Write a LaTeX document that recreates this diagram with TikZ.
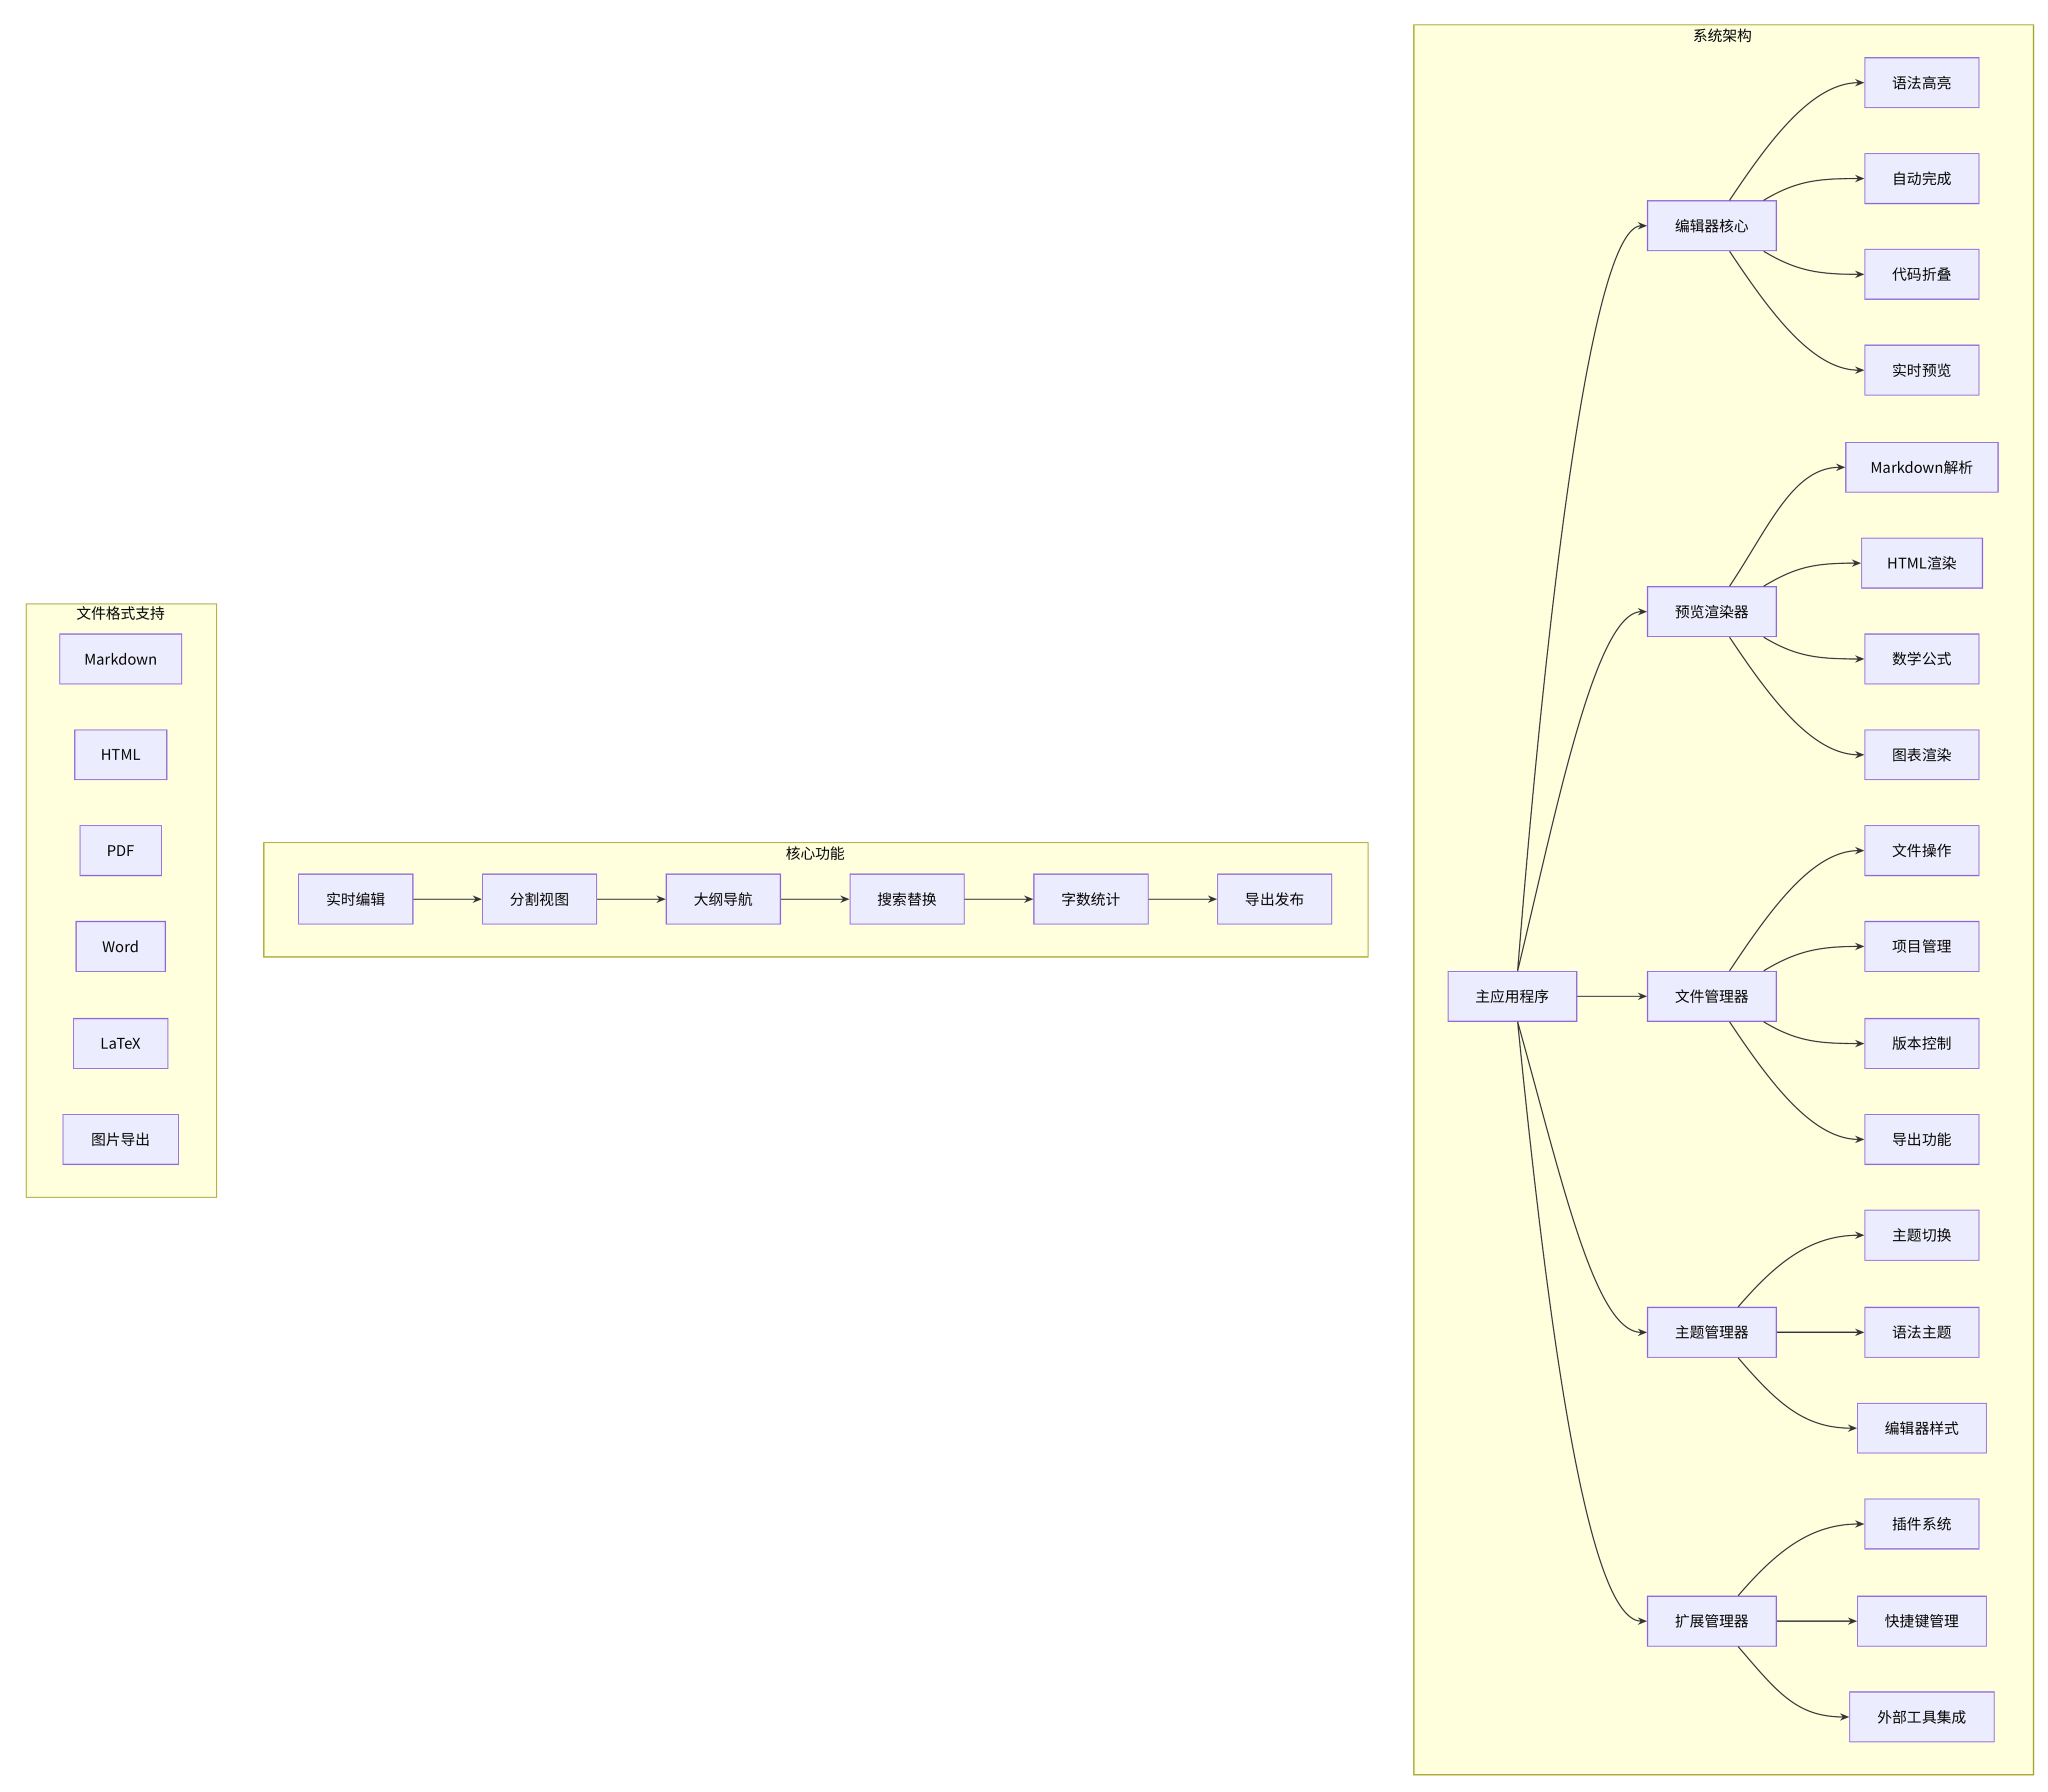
\documentclass[tikz,border=0pt]{standalone}
\usepackage{fontspec}
\setmainfont{Noto Sans CJK SC}
\usetikzlibrary{calc,arrows.meta}
\definecolor{nfill}{HTML}{ECECFF}
\definecolor{nline}{HTML}{9370DB}
\definecolor{cfill}{HTML}{FFFFDE}
\definecolor{cline}{HTML}{AAAA33}
\definecolor{eline}{HTML}{333333}
\tikzset{
 bx/.style={draw=nline,fill=nfill,line width=1.2pt,minimum height=1.9cm,inner sep=0pt,font=\fontsize{16}{19}\selectfont},
 cl/.style={draw=cline,fill=cfill,line width=1.2pt},
 ttl/.style={font=\fontsize{16}{19}\selectfont,inner sep=0pt},
 ed/.style={draw=eline,line width=1.2pt,-{Stealth[length=10pt,width=8pt]}}
}
\begin{document}
\begin{tikzpicture}[x=0.05cm,y=-0.05cm]
\useasboundingbox (0,0) rectangle (1560,1365);
% clusters
\draw[cl] (20,460) rectangle (165,912);
\node[ttl] (t1) at (92,467) {文件格式支持};
\draw[cl] (201,642) rectangle (1042,729);
\node[ttl] (t2) at (621,650) {核心功能};
\draw[cl] (1077,19) rectangle (1549,1352);
\node[ttl] (t3) at (1312,27) {系统架构};
% left
\node[bx,minimum width=4.65cm] (f1) at (92,502) {Markdown};
\node[bx,minimum width=3.5cm] (f2) at (92,575) {HTML};
\node[bx,minimum width=3.1cm] (f3) at (92,648) {PDF};
\node[bx,minimum width=3.4cm] (f4) at (92,721) {Word};
\node[bx,minimum width=3.6cm] (f5) at (92,795) {LaTeX};
\node[bx,minimum width=4.4cm] (f6) at (92,868) {图片导出};
% middle
\foreach \n/\x/\t in {c1/271/实时编辑,c2/411/分割视图,c3/551/大纲导航,c4/691/搜索替换,c5/831/字数统计,c6/971/导出发布}
  \node[bx,minimum width=4.35cm] (\n) at (\x,685) {\t};
\foreach \a/\b in {c1/c2,c2/c3,c3/c4,c4/c5,c5/c6} \draw[ed] (\a) -- (\b);
% right
\node[bx,minimum width=4.9cm] (m) at (1152,759) {主应用程序};
\node[bx,minimum width=4.9cm] (b1) at (1304,172) {编辑器核心};
\node[bx,minimum width=4.9cm] (b2) at (1304,466) {预览渲染器};
\node[bx,minimum width=4.9cm] (b3) at (1304,759) {文件管理器};
\node[bx,minimum width=4.9cm] (b4) at (1304,1015) {主题管理器};
\node[bx,minimum width=4.9cm] (b5) at (1304,1235) {扩展管理器};
\foreach \n/\y/\w/\t in {l1/63/4.35/语法高亮,l2/136/4.35/自动完成,l3/209/4.35/代码折叠,l4/282/4.35/实时预览,
 l5/356/5.8/Markdown解析,l6/429/4.6/HTML渲染,l7/502/4.35/数学公式,l8/575/4.35/图表渲染,
 l9/648/4.35/文件操作,l10/721/4.35/项目管理,l11/795/4.35/版本控制,l12/868/4.35/导出功能,
 l13/941/4.35/主题切换,l14/1015/4.35/语法主题,l15/1088/4.9/编辑器样式,
 l16/1161/4.35/插件系统,l17/1235/4.9/快捷键管理,l18/1308/5.5/外部工具集成}
  \node[bx,minimum width=\w cm] (\n) at (1464,\y) {\t};
% main to level2
\draw[ed] (m.north) ++(4,0) coordinate (ms1) (ms1) .. controls (1175,500) and (1210,172) .. (b1.west);
\draw[ed] (m.north) ++(4,0) coordinate (ms2) (ms2) .. controls (1185,620) and (1215,466) .. (b2.west);
\draw[ed] (m) -- (b3);
\draw[ed] (m.south) ++(4,0) coordinate (ms4) (ms4) .. controls (1190,900) and (1215,1015) .. (b4.west);
\draw[ed] (m.south) ++(4,0) coordinate (ms5) (ms5) .. controls (1180,1020) and (1210,1235) .. (b5.west);
% level2 to level3 (4 children)
\foreach \b/\p/\q/\r/\s in {b1/l1/l2/l3/l4,b2/l5/l6/l7/l8,b3/l9/l10/l11/l12}{
 \draw[ed] ($(\b.north east)+(-36,0)$) .. controls ++(30,-45) and ($(\p.west)+(-40,0)$) .. (\p.west);
 \draw[ed] ($(\b.north east)+(-10,0)$) .. controls ++(25,-15) and ($(\q.west)+(-35,0)$) .. (\q.west);
 \draw[ed] ($(\b.south east)+(-10,0)$) .. controls ++(25,15) and ($(\r.west)+(-35,0)$) .. (\r.west);
 \draw[ed] ($(\b.south east)+(-36,0)$) .. controls ++(30,45) and ($(\s.west)+(-40,0)$) .. (\s.west);
}
% level2 to level3 (3 children)
\foreach \b/\p/\q/\r in {b4/l13/l14/l15,b5/l16/l17/l18}{
 \draw[ed] (\b.north) ++(20,0) coordinate (tmp) (tmp) .. controls ++(30,-35) and ($(\p.west)+(-40,0)$) .. (\p.west);
 \draw[ed] (\b) -- (\q);
 \draw[ed] (\b.south) ++(20,0) coordinate (tmp) (tmp) .. controls ++(30,35) and ($(\r.west)+(-40,0)$) .. (\r.west);
}
\end{tikzpicture}
\end{document}
